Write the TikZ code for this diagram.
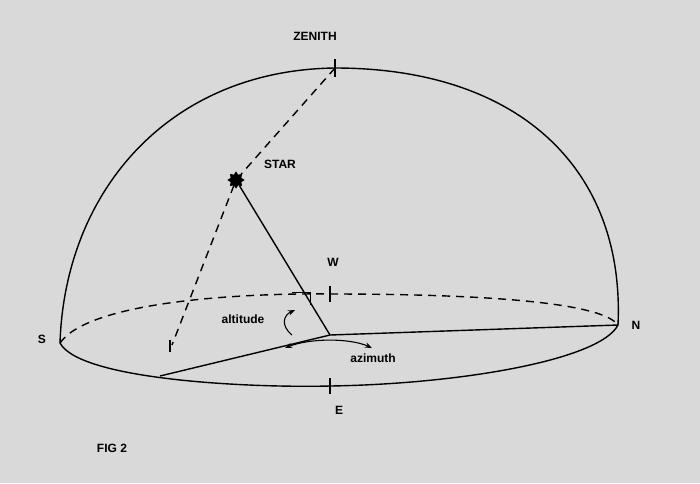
\documentclass[tikz,border=0pt]{standalone}
\usepackage{fontspec}
\setmainfont{Liberation Sans}
\usetikzlibrary{arrows.meta,shapes.geometric}
\begin{document}
\begin{tikzpicture}[x=1pt,y=-1pt,line width=1.4pt,
  lab/.style={font=\bfseries\fontsize{12}{14}\selectfont,inner sep=1pt},
  dsh/.style={dash pattern=on 8pt off 6pt}]
\fill[gray!30] (0,0) rectangle (700,483);
\useasboundingbox (0,0) rectangle (700,483);
\coordinate (S) at (60,343);
\coordinate (N) at (618,325);
\coordinate (Z) at (335,68);
\coordinate (C) at (330,335);
\coordinate (F) at (160,376);
\coordinate (G) at (172,345);
\node[draw,star,star points=8,fill=black,inner sep=1.5pt,minimum size=16pt,line width=.6pt] (star) at (236,180) {};
% base ellipse front
\draw (S) .. controls (80,380) and (250,388) .. (330,386) .. controls (460,384) and (600,360) .. (N);
% base back dashed
\draw[dsh] (S) .. controls (90,300) and (250,293) .. (330,294) .. controls (460,294) and (600,300) .. (N);
% dome
\draw (S) .. controls (65,190) and (170,70) .. (Z) .. controls (520,68) and (625,170) .. (N);
% lines
\draw[dsh] (Z) -- (star);
\draw[dsh] (star) -- (G);
\draw (star) -- (C);
\draw (F) -- (C) -- (N);
% ticks
\draw (Z) ++(0,-9) -- ++(0,18);
\draw (330,286) -- (330,302);
\draw (330,378) -- (330,394);
\draw (170,340) -- (170,352);
\draw[line width=1pt] (292,292) -- (310,292) -- (310,305);
% arcs
\draw[-{Stealth[length=7pt]},line width=1.1pt] (292,335) .. controls (280,325) and (284,315) .. (295,310);
\draw[{Stealth[length=7pt]}-{Stealth[length=7pt]},line width=1.1pt] (285,348) .. controls (310,338) and (350,338) .. (372,348);
% labels
\node[lab] (zl) at (315,36) {ZENITH};
\node[lab] (sl) at (280,164) {STAR};
\node[lab] (wl) at (333,262) {W};
\node[lab] (el) at (339,410) {E};
\node[lab] (Sl) at (42,339) {S};
\node[lab] (Nl) at (636,325) {N};
\node[lab] (al) at (243,319) {altitude};
\node[lab] (azl) at (373,358) {azimuth};
\node[lab] (fl) at (112,448) {FIG 2};
\end{tikzpicture}
\end{document}
